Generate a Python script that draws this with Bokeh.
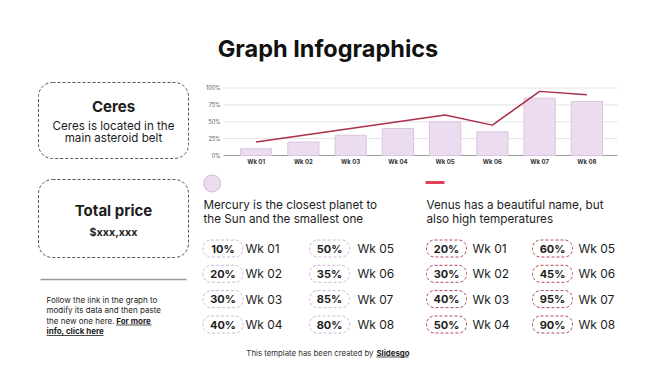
from bokeh.plotting import figure
from bokeh.models import Range1d, LinearScale
from bokeh.core.properties import value
from bokeh.embed import file_html
from bokeh.resources import INLINE

# ---------------- data ----------------
weeks = ["Wk 01", "Wk 02", "Wk 03", "Wk 04", "Wk 05", "Wk 06", "Wk 07", "Wk 08"]
mercury = [10, 20, 30, 40, 50, 35, 85, 80]
venus = [20, 30, 40, 50, 60, 45, 95, 90]
y_ticks = [0, 25, 50, 75, 100]
y_tick_labels = ["0%", "25%", "50%", "75%", "100%"]

FONT = "Inter"
INK = "#1d1d1d"
BAR_FILL = "#ecdcef"
BAR_LINE = "#dcc3e2"
LINE_COL = "#a8304a"
VENUS_COL = "#e0405c"

p = figure(width=647, height=360, x_range=Range1d(0, 647), y_range=Range1d(360, 0),
           output_backend="svg", toolbar_location=None, min_border=0,
           x_axis_location=None, y_axis_location=None)
p.grid.visible = False
p.outline_line_color = None
p.background_fill_color = "white"
p.border_fill_color = "white"


def txt(x, y, s, size, bold=False, align="left", color=INK):
    p.text(x=[x], y=[y], text=[s], text_font=value(FONT),
           text_font_size=value(f"{size}px"),
           text_font_style="bold" if bold else "normal",
           text_align=align, text_baseline="middle", text_color=color)


# ---------------- title ----------------
txt(327.5, 47.5, "Graph Infographics", 23.5, bold=True, align="center", color="#111111")

# ---------------- left cards ----------------
p.quad(left=[38, 38], right=[188, 188], top=[82, 179], bottom=[158, 257],
       fill_color=None, line_color="#555555", line_width=1, line_dash="3 2",
       border_radius=14)
txt(113, 106, "Ceres", 15, bold=True, align="center")
txt(113, 125.5, "Ceres is located in the", 11.6, align="center")
txt(113, 137.5, "main asteroid belt", 11.6, align="center")
txt(113, 210, "Total price", 15, bold=True, align="center")
txt(113, 231.5, "$xxx,xxx", 10.7, bold=True, align="center")

p.segment(x0=[40], x1=[186], y0=[279], y1=[279], line_color="#9a9a9a", line_width=1.5)
txt(46, 299, "Follow the link in the graph to", 8)
txt(46, 309.5, "modify its data and then paste", 8)
txt(46, 320, "the new one here.", 8)
txt(115.7, 320, "For more", 8, bold=True)
txt(46, 330.5, "info, click here", 8, bold=True)
p.segment(x0=[115.7, 46], x1=[151, 103], y0=[324.5, 335], y1=[324.5, 335],
          line_color=INK, line_width=0.8)

# ---------------- chart (sub-coordinates) ----------------
grid = p.subplot(x_source=Range1d(0, 1), y_source=Range1d(0, 100),
                 x_scale=LinearScale(), y_scale=LinearScale(),
                 x_target=Range1d(223, 617), y_target=Range1d(155, 87.5))
grid.segment(x0=0, x1=1, y0=y_ticks[1:], y1=y_ticks[1:], line_color="#e3e3e3", line_width=1)
grid.segment(x0=0, x1=1, y0=y_ticks[:1], y1=y_ticks[:1], line_color="#9a9a9a", line_width=1)
grid.text(x=0, y=y_ticks, text=y_tick_labels, x_offset=-3, text_align="right",
          text_baseline="middle", text_font=value(FONT), text_font_size=value("5.5px"),
          text_color="#555555")

xpos = [i + 0.5 for i in range(len(weeks))]
chart = p.subplot(x_source=Range1d(0, len(weeks)), y_source=Range1d(0, 100),
                  x_scale=LinearScale(), y_scale=LinearScale(),
                  x_target=Range1d(232, 610), y_target=Range1d(155, 87.5))
chart.vbar(x=xpos, top=mercury, bottom=0, width=0.66, fill_color=BAR_FILL,
           line_color=BAR_LINE, line_width=1)
chart.line(x=xpos, y=venus, line_color=LINE_COL, line_width=1.5)
chart.text(x=xpos, y=-9, text=weeks, text_align="center", text_baseline="middle",
           text_font=value(FONT), text_font_size=value("6px"), text_font_style="bold",
           text_color="#333333")

# ---------------- legends ----------------
p.scatter(x=[211.7], y=[183], size=17, marker="circle", fill_color=BAR_FILL, line_color="#d6b6dc")
txt(203, 204, "Mercury is the closest planet to", 11.7)
txt(203, 218, "the Sun and the smallest one", 11.7)

p.segment(x0=[425], x1=[444], y0=[182], y1=[182], line_color=VENUS_COL, line_width=3)
txt(426, 204, "Venus has a beautiful name, but", 11.7)
txt(426, 218, "also high temperatures", 11.7)

# ---------------- value pills ----------------
row_y = [248, 273.3, 298.6, 324]


def pills(values, pill_cx, label_x, border):
    cx, cy, lx = [], [], []
    for i, v in enumerate(values):
        col, row = divmod(i, 4)
        cx.append(pill_cx[col])
        cy.append(row_y[row])
        lx.append(label_x[col])
    p.quad(left=[c - 20 for c in cx], right=[c + 20 for c in cx],
           top=[y - 8.5 for y in cy], bottom=[y + 8.5 for y in cy],
           fill_color=None, line_color=border, line_width=1, line_dash="3 2",
           border_radius=8)
    p.text(x=cx, y=cy, text=[f"{v}%" for v in values], text_align="center",
           text_baseline="middle", text_font=value(FONT), text_font_size=value("11px"),
           text_font_style="bold", text_color=INK)
    p.text(x=lx, y=cy, text=weeks, text_align="left", text_baseline="middle",
           text_font=value(FONT), text_font_size=value("12px"), text_color=INK)


pills(mercury, [222.5, 329], [245, 357], "#d4b4dc")
pills(venus, [446, 552], [472, 578], "#b04a5c")

# ---------------- footer ----------------
txt(373, 352.5, "This template has been created by", 7.8, align="right", color="#333333")
txt(376, 352.5, "Slidesgo", 7.8, bold=True, color=INK)
p.segment(x0=[376], x1=[408], y0=[356.5], y1=[356.5], line_color=INK, line_width=0.8)

open("out.html", "w").write(file_html(p, INLINE))
